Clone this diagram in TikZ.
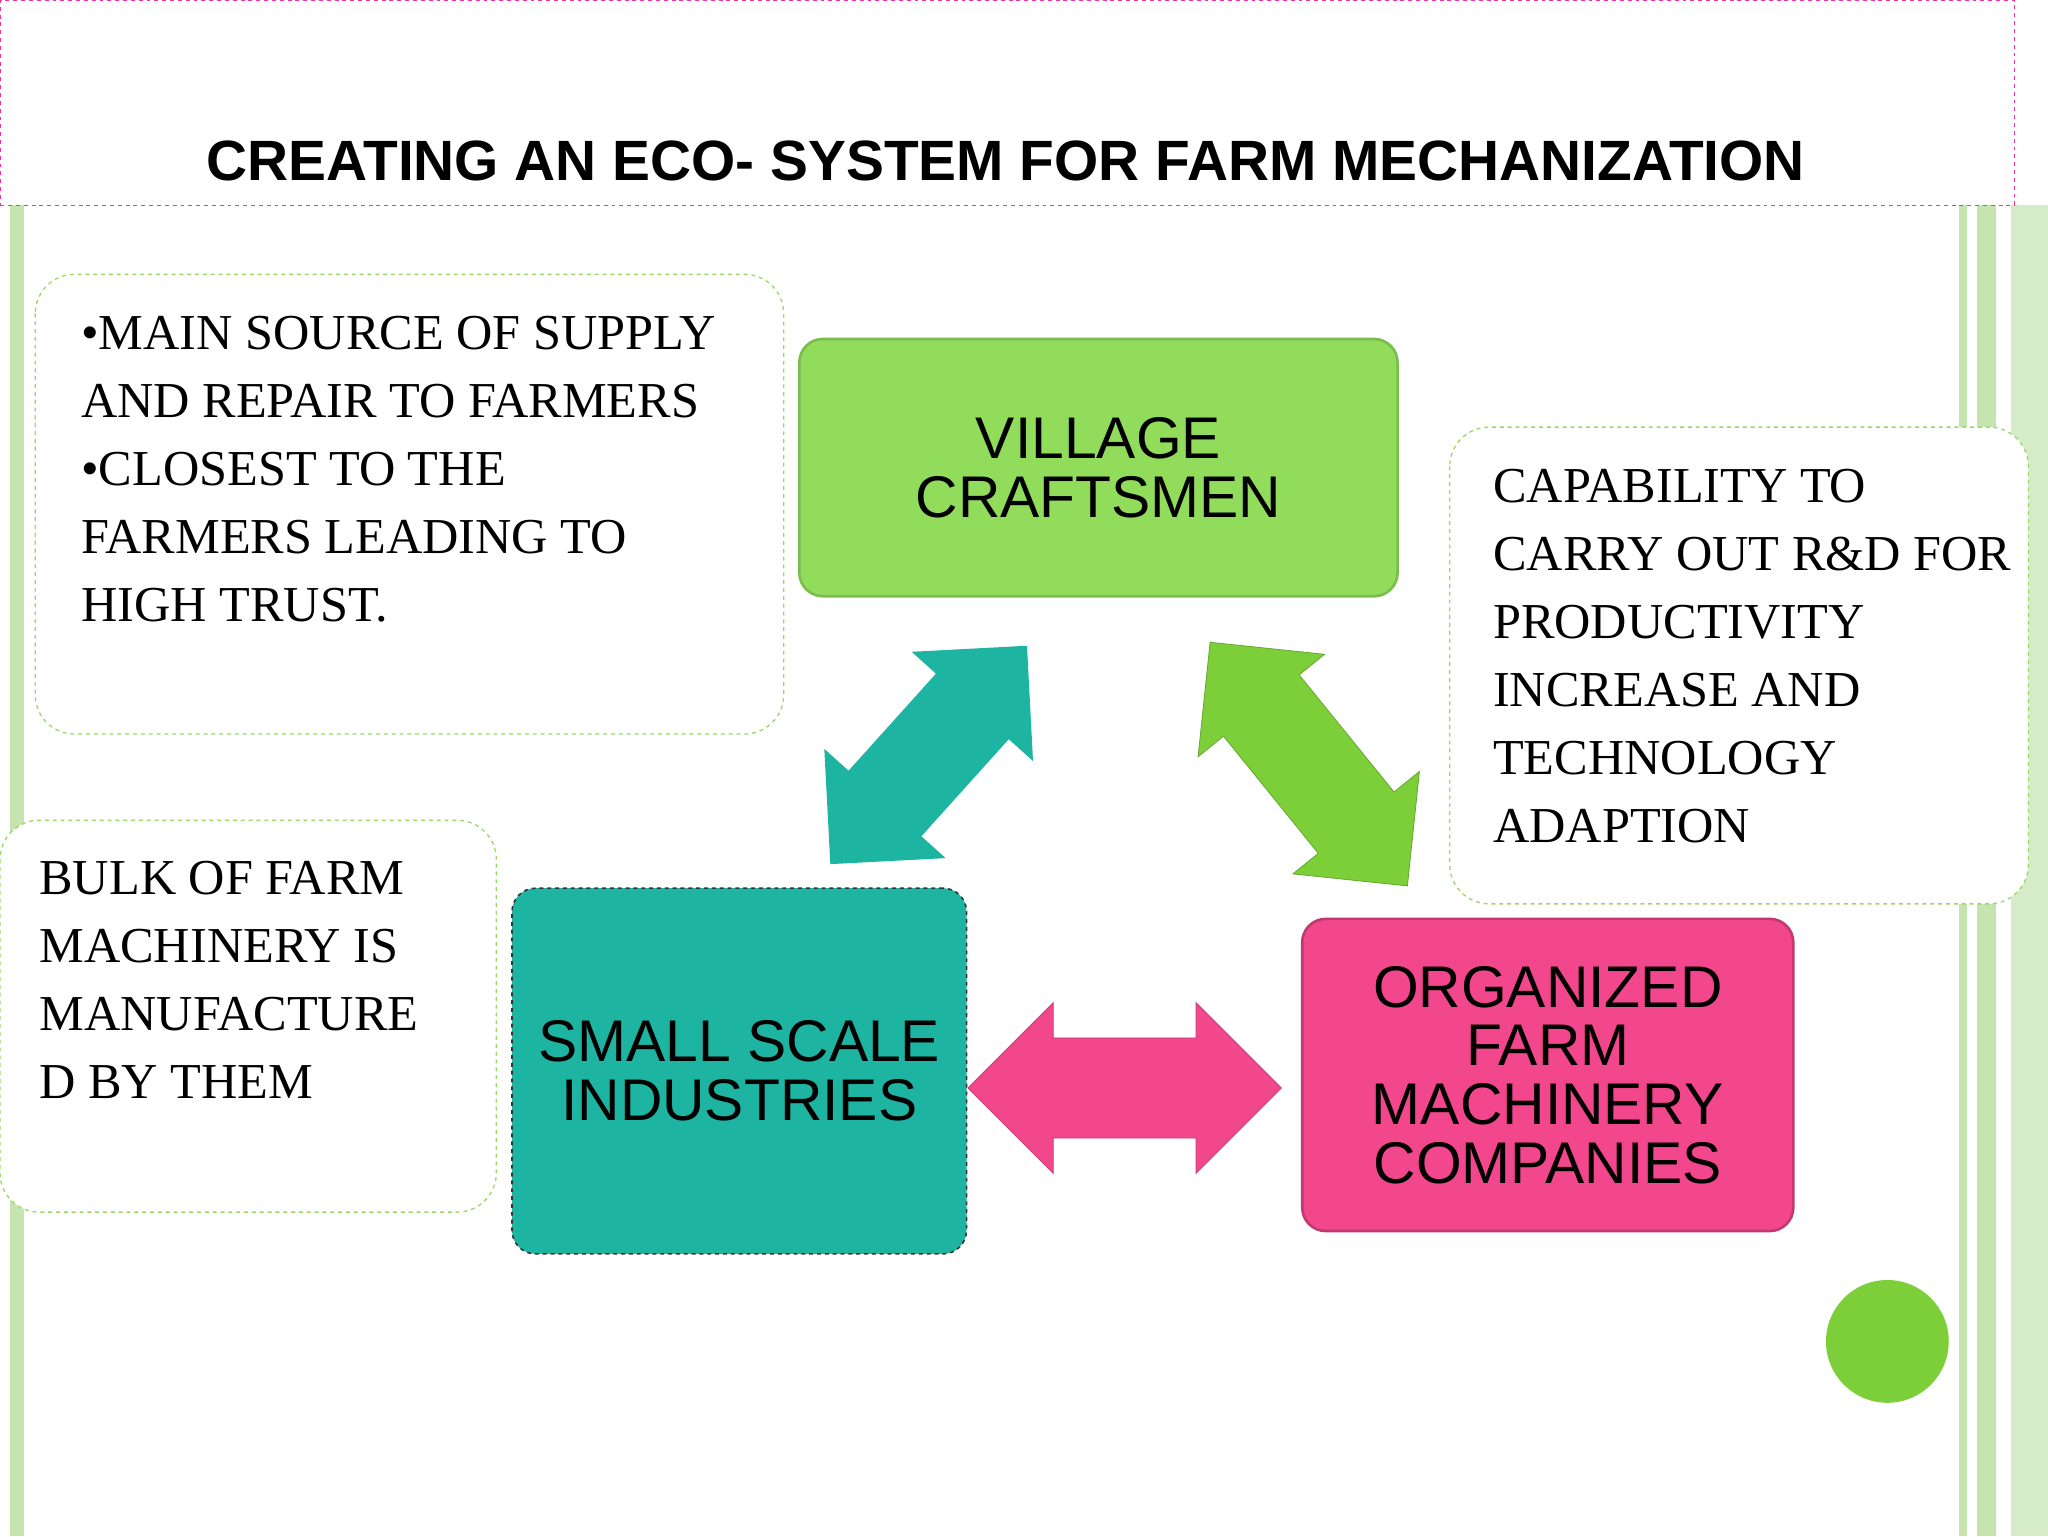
\documentclass[tikz,border=0pt]{standalone}
\usepackage{fontspec}
\setmainfont{Liberation Serif}
\newfontfamily\sansf{Liberation Sans}
\usetikzlibrary{shapes.arrows}
\definecolor{vgreen}{HTML}{92DC5C}
\definecolor{teal2}{HTML}{1DB4A2}
\definecolor{pink2}{HTML}{F2478C}
\definecolor{lgreen}{HTML}{C5E4B0}
\definecolor{dgreen}{HTML}{7DCF3A}
\tikzset{
 note/.style={draw=dgreen!80,dashed,rounded corners=30pt,line width=1pt},
 serif/.style={font=\fontsize{38.5}{52}\selectfont,align=left,anchor=north west,inner sep=0pt},
 main/.style={rounded corners=18pt,line width=2pt,font=\sansf\fontsize{45}{45}\selectfont,align=center},
 darr/.style={double arrow,inner xsep=0pt,inner ysep=37pt,double arrow head extend=25pt,line width=1pt},
}
\begin{document}
\begin{tikzpicture}[x=1pt,y=-1pt]
\useasboundingbox (0,0) rectangle (1568,1176);
\fill[white] (0,0) rectangle (1568,1176);
% stripes
\fill[lgreen] (8,157) rectangle (18,1176);
\fill[lgreen] (1500,157) rectangle (1506,1176);
\fill[lgreen] (1514,157) rectangle (1528,1176);
\fill[lgreen!70] (1540,157) rectangle (1568,1176);
% title
\node[draw=magenta!80,dashed,fill=white,minimum width=1542pt,minimum height=157pt,anchor=north west,inner sep=0pt] (title) at (0,0) {};
\node[font=\sansf\bfseries\fontsize{43.5}{43.5}\selectfont] (ttext) at (770,123) {CREATING AN ECO- SYSTEM FOR FARM MECHANIZATION};
% notes
\draw[note,fill=white] (27,210) rectangle (600,562);
\node[serif] (n1) at (62,242) {•MAIN SOURCE OF SUPPLY\\AND REPAIR TO FARMERS\\•CLOSEST TO THE\\FARMERS LEADING TO\\HIGH TRUST.};
\draw[note,fill=white] (1110,327) rectangle (1553,692);
\node[serif] (n2) at (1143,359) {CAPABILITY TO\\CARRY OUT R\&D FOR\\PRODUCTIVITY\\INCREASE AND\\TECHNOLOGY\\ADAPTION};
\draw[note,fill=white] (0,628) rectangle (380,928);
\node[serif] (n3) at (30,659) {BULK OF FARM\\MACHINERY IS\\MANUFACTURE\\D BY THEM};
% main boxes
\node[main,fill=vgreen,draw=vgreen!85!black,minimum width=458pt,minimum height=197pt] (vc) at (841,358) {VILLAGE\\CRAFTSMEN};
\node[main,fill=teal2,draw=black!80,dashed,line width=1.2pt,minimum width=348pt,minimum height=280pt] (ssi) at (566,820) {SMALL SCALE\\INDUSTRIES};
\node[main,fill=pink2,draw=pink2!80!black,minimum width=376pt,minimum height=239pt] (ofm) at (1185,823) {ORGANIZED\\FARM\\MACHINERY\\COMPANIES};
% arrows
\node[darr,fill=teal2,minimum height=225pt,rotate=48] (a1) at (711,578) {};
\node[darr,fill=dgreen,draw=dgreen!80!black,line width=0.6pt,minimum height=240pt,rotate=-51] (a2) at (1002,585) {};
\node[darr,fill=pink2,draw=pink2!80!black,line width=0.6pt,minimum height=240pt,inner ysep=38pt,double arrow head extend=27pt] (a3) at (861,833) {};
% dot
\node[circle,fill=dgreen,minimum size=94pt,inner sep=0pt] (dot) at (1445,1027) {};
\end{tikzpicture}
\end{document}
